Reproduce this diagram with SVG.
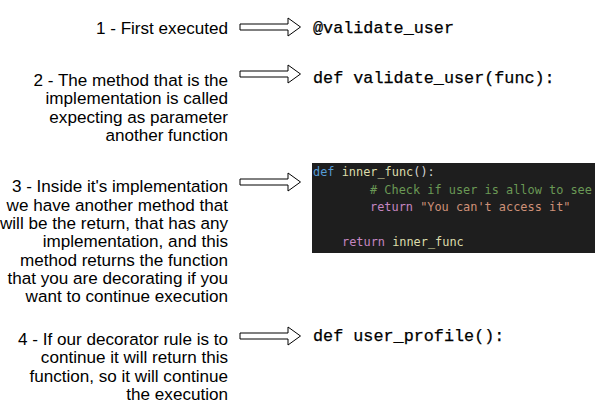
<svg xmlns="http://www.w3.org/2000/svg" width="595" height="410" viewBox="0 0 595 410">
<style>
.lbl{font-family:"Liberation Sans",Arial,Helvetica,sans-serif;font-size:17.1px;fill:#000;text-anchor:end}
.mono{font-family:"Liberation Mono","Courier New",monospace;font-size:16.8px;fill:#000;stroke:#000;stroke-width:0.25}
.code{font-family:"DejaVu Sans Mono",Menlo,monospace;font-size:11.9px;white-space:pre}
.arrow{fill:#fff;stroke:#000;stroke-width:1}
.kw{fill:#569cd6}.fn{fill:#dcdcaa}.pl{fill:#d4d4d4}.cm{fill:#6a9955}.rt{fill:#c586c0}.st{fill:#ce9178}
</style>
<defs>
<path id="arr" d="M0,-3 L48,-3 L48,-9 L60.5,0 L48,9 L48,3 L0,3 Z"/>
<clipPath id="codeclip"><rect x="312" y="163" width="283" height="90"/></clipPath>
</defs>
<rect width="595" height="410" fill="#fff"/>
<g id="step1">
<text class="lbl" x="228" y="34">1 - First executed</text>
<text class="mono" x="313" y="33">@validate_user</text>
</g>
<g id="step2">
<text class="lbl" x="228" y="86">2 - The method that is the</text>
<text class="lbl" x="228" y="104.3">implementation is called</text>
<text class="lbl" x="228" y="122.6">expecting as parameter</text>
<text class="lbl" x="228" y="141">another function</text>
<text class="mono" x="313" y="83">def validate_user(func):</text>
</g>
<g id="step3">
<text class="lbl" x="228" y="192.3">3 - Inside it's implementation</text>
<text class="lbl" x="228" y="210.7">we have another method that</text>
<text class="lbl" x="228" y="229">will be the return, that has any</text>
<text class="lbl" x="228" y="247.3">implementation, and this</text>
<text class="lbl" x="228" y="265.7">method returns the function</text>
<text class="lbl" x="228" y="284">that you are decorating if you</text>
<text class="lbl" x="228" y="302.3">want to continue execution</text>
<g id="codeblock" clip-path="url(#codeclip)">
<rect x="312" y="163" width="283" height="90" fill="#1e1e1e"/>
<text class="code" x="313" y="176"><tspan class="kw">def</tspan><tspan class="pl"> </tspan><tspan class="fn">inner_func</tspan><tspan class="pl">():</tspan></text>
<text class="code cm" x="370" y="193.5"># Check if user is allow to see</text>
<text class="code" x="370" y="211"><tspan class="rt">return</tspan><tspan class="pl"> </tspan><tspan class="st">"You can't access it"</tspan></text>
<text class="code" x="342" y="246"><tspan class="rt">return</tspan><tspan class="pl"> </tspan><tspan class="fn">inner_func</tspan></text>
</g>
</g>
<g id="step4">
<text class="lbl" x="228" y="345">4 - If our decorator rule is to</text>
<text class="lbl" x="228" y="363.3">continue it will return this</text>
<text class="lbl" x="228" y="381.7">function, so it will continue</text>
<text class="lbl" x="228" y="400">the execution</text>
<text class="mono" x="313" y="341">def user_profile():</text>
</g>
<g id="connectors">
<use href="#arr" class="arrow" x="240" y="27"/>
<use href="#arr" class="arrow" x="240" y="74"/>
<use href="#arr" class="arrow" x="240" y="182"/>
<use href="#arr" class="arrow" x="240" y="336"/>
</g>
</svg>
